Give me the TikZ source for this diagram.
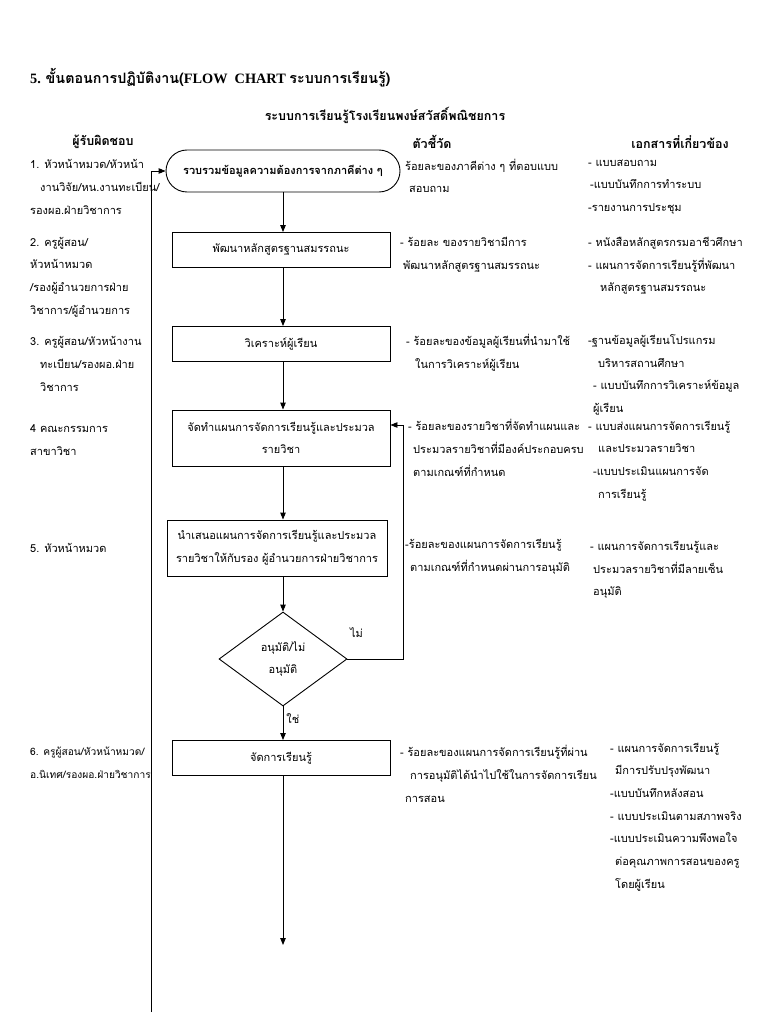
\documentclass[tikz,border=0pt]{standalone}
\usepackage{fontspec}
\setmainfont{Liberation Serif}
\newfontfamily\thai[Script=Thai]{Loma}
\usetikzlibrary{shapes.geometric,arrows.meta}
\tikzset{
  body/.style={anchor=west,inner sep=0pt,align=left,font=\thai\fontsize{11}{22.7}\selectfont},
  head/.style={inner sep=0pt,font=\thai\bfseries\fontsize{12.5}{15}\selectfont},
  stepbox/.style={draw,line width=0.9pt,minimum width=218pt,minimum height=35pt,inner sep=2pt,align=center,font=\thai\fontsize{11}{22.7}\selectfont},
  arr/.style={line width=0.9pt,-{Triangle[length=7pt,width=5.5pt]}},
  ln/.style={line width=0.9pt}
}
\begin{document}
\begin{tikzpicture}[x=1pt,y=-1pt]
\useasboundingbox[fill=white] (0,0) rectangle (768,1024);
% titles
\node[anchor=west,inner sep=0pt,font=\bfseries\fontsize{14.3}{17}\selectfont] (title) at (30,78)
  {5. {\thai ขั้นตอนการปฏิบัติงาน(}FLOW\ \ CHART {\thai ระบบการเรียนรู้)}};
\node[head] (sub) at (385,115) {ระบบการเรียนรู้โรงเรียนพงษ์สวัสดิ์พณิชยการ};
\node[head] (h1) at (103,142) {ผู้รับผิดชอบ};
\node[head] (h2) at (432,142) {ตัวชี้วัด};
\node[head] (h3) at (680,142) {เอกสารที่เกี่ยวข้อง};
% flow nodes
\node[draw,line width=0.9pt,rounded corners=21pt,minimum width=234pt,minimum height=42pt,inner sep=2pt,font=\thai\bfseries\fontsize{11}{14}\selectfont] (s1) at (283,171) {รวบรวมข้อมูลความต้องการจากภาคีต่าง ๆ};
\node[stepbox] (s2) at (281,250) {พัฒนาหลักสูตรฐานสมรรถนะ};
\node[stepbox] (s3) at (281,344) {วิเคราะห์ผู้เรียน};
\node[stepbox,minimum height=56pt] (s4) at (281,438) {จัดทำแผนการจัดการเรียนรู้และประมวล\\รายวิชา};
\node[stepbox,minimum width=220pt,minimum height=56pt] (s5) at (277,548) {นำเสนอแผนการจัดการเรียนรู้และประมวล\\รายวิชาให้กับรอง ผู้อำนวยการฝ่ายวิชาการ};
\node[draw,diamond,line width=0.9pt,minimum width=128pt,minimum height=94pt,inner sep=0pt,align=center,font=\thai\fontsize{11}{22.7}\selectfont] (dec) at (283,659) {อนุมัติ/ไม่\\อนุมัติ};
\node[stepbox] (s7) at (281,758) {จัดการเรียนรู้};
\coordinate (fin) at (283,945);
\coordinate (nr) at (403,425);
\coordinate (lb) at (151,1012);
% connectors
\draw[arr] (s1.south -| dec) -- (s2.north -| dec);
\draw[arr] (s2.south -| dec) -- (s3.north -| dec);
\draw[arr] (s3.south -| dec) -- (s4.north -| dec);
\draw[arr] (s4.south -| dec) -- (s5.north -| dec);
\draw[arr] (s5.south -| dec) -- (dec.north);
\draw[arr] (dec.south) -- node[right,pos=0.35,inner sep=3pt,font=\thai\fontsize{11}{14}\selectfont] (yes) {ใช่} (s7.north -| dec);
\draw[arr] (s7.south -| dec) -- (fin);
\draw[arr] (dec.east) -| (nr) -- (s4.east |- nr);
\node[anchor=west,inner sep=0pt,font=\thai\fontsize{11}{14}\selectfont] (no) at (350,633) {ไม่};
\draw[arr] (lb) |- (s1.west);
% responsible column
\node[body] (r1) at (30,187) {1. หัวหน้าหมวด/หัวหน้า\\\hspace*{10pt}งานวิจัย/หน.งานทะเบียน/\\รองผอ.ฝ่ายวิชาการ};
\node[body] (r2) at (30,277) {2. ครูผู้สอน/\\หัวหน้าหมวด\\/รองผู้อำนวยการฝ่าย\\วิชาการ/ผู้อำนวยการ};
\node[body] (r3) at (30,364) {3. ครูผู้สอน/หัวหน้างาน\\\hspace*{10pt}ทะเบียน/รองผอ.ฝ่าย\\\hspace*{10pt}วิชาการ};
\node[body] (r4) at (30,440) {4 คณะกรรมการ\\สาขาวิชา};
\node[body] (r5) at (30,548) {5. หัวหน้าหมวด};
\node[body,font=\thai\fontsize{10.2}{22.7}\selectfont] (r6) at (30,763) {6. ครูผู้สอน/หัวหน้าหมวด/\\อ.นิเทศ/รองผอ.ฝ่ายวิชาการ};
% indicator column
\node[body] (i1) at (405,176) {ร้อยละของภาคีต่าง ๆ ที่ตอบแบบ\\\hspace*{4pt}สอบถาม};
\node[body] (i2) at (400,255) {- ร้อยละ ของรายวิชามีการ\\\hspace*{3pt}พัฒนาหลักสูตรฐานสมรรถนะ};
\node[body] (i3) at (406,353) {- ร้อยละของข้อมูลผู้เรียนที่นำมาใช้\\\hspace*{9pt}ในการวิเคราะห์ผู้เรียน};
\node[body] (i4) at (408,448) {- ร้อยละของรายวิชาที่จัดทำแผนและ\\\hspace*{5pt}ประมวลรายวิชาที่มีองค์ประกอบครบ\\\hspace*{5pt}ตามเกณฑ์ที่กำหนด};
\node[body] (i5) at (405,557) {-ร้อยละของแผนการจัดการเรียนรู้\\\hspace*{5pt}ตามเกณฑ์ที่กำหนดผ่านการอนุมัติ};
\node[body] (i6) at (400,774) {- ร้อยละของแผนการจัดการเรียนรู้ที่ผ่าน\\\hspace*{10pt}การอนุมัติได้นำไปใช้ในการจัดการเรียน\\\hspace*{5pt}การสอน};
% document column
\node[body] (d1) at (588,187) {- แบบสอบถาม\\\hspace*{2pt}-แบบบันทึกการทำระบบ\\-รายงานการประชุม};
\node[body] (d2) at (588,266) {- หนังสือหลักสูตรกรมอาชีวศึกษา\\- แผนการจัดการเรียนรู้ที่พัฒนา\\\hspace*{12pt}หลักสูตรฐานสมรรถนะ};
\node[body] (d3) at (588,375) {-ฐานข้อมูลผู้เรียนโปรแกรม\\\hspace*{10pt}บริหารสถานศึกษา\\\hspace*{5pt}- แบบบันทึกการวิเคราะห์ข้อมูล\\\hspace*{5pt}ผู้เรียน};
\node[body] (d4) at (588,461) {- แบบส่งแผนการจัดการเรียนรู้\\\hspace*{10pt}และประมวลรายวิชา\\\hspace*{5pt}-แบบประเมินแผนการจัด\\\hspace*{10pt}การเรียนรู้};
\node[body] (d5) at (590,570) {- แผนการจัดการเรียนรู้และ\\\hspace*{3pt}ประมวลรายวิชาที่มีลายเซ็น\\\hspace*{3pt}อนุมัติ};
\node[body] (d6) at (610,817) {- แผนการจัดการเรียนรู้\\\hspace*{5pt}มีการปรับปรุงพัฒนา\\-แบบบันทึกหลังสอน\\- แบบประเมินตามสภาพจริง\\-แบบประเมินความพึงพอใจ\\\hspace*{5pt}ต่อคุณภาพการสอนของครู\\\hspace*{5pt}โดยผู้เรียน};
\end{tikzpicture}
\end{document}
